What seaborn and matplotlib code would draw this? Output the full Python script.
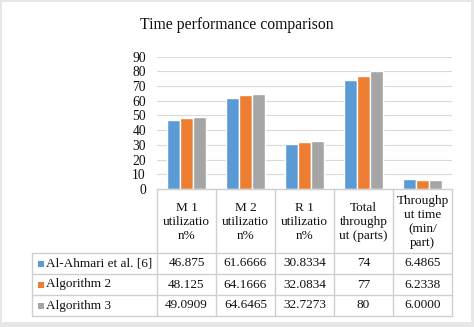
import matplotlib
matplotlib.use("Agg")
import matplotlib.pyplot as plt
import seaborn as sns
import pandas as pd
from matplotlib.patches import Rectangle

# ---- data ----
categories = ["M 1\nutilizatio\nn%", "M 2\nutilizatio\nn%", "R 1\nutilizatio\nn%",
              "Total\nthroughp\nut (parts)", "Throughp\nut time\n(min/\npart)"]
series_names = ["Al-Ahmari et al. [6]", "Algorithm 2", "Algorithm 3"]
al_ahmari = ["46.875", "61.6666", "30.8334", "74", "6.4865"]
algorithm2 = ["48.125", "64.1666", "32.0834", "77", "6.2338"]
algorithm3 = ["49.0909", "64.6465", "32.7273", "80", "6.0000"]
y_ticks = [0, 10, 20, 30, 40, 50, 60, 70, 80, 90]
colors = ["#5B9BD5", "#ED7D31", "#A5A5A5"]
title = "Time performance comparison"

series_values = [al_ahmari, algorithm2, algorithm3]
rows = []
for name, vals in zip(series_names, series_values):
    for cat, v in zip(categories, vals):
        rows.append({"category": cat, "series": name, "value": float(v)})
df = pd.DataFrame(rows)

sns.set_theme(style="white")
plt.rcParams["font.family"] = ["Liberation Serif", "DejaVu Serif"]

W, H = 474, 327
fig = plt.figure(figsize=(W / 100, H / 100), dpi=100)
fig.patch.set_facecolor("#E7E7E7")

def fx(x):
    return x / W

def fy(y):
    return 1 - y / H

# white chart area
fig.patches.append(Rectangle((fx(2), fy(322)), fx(471) - fx(2), fy(2) - fy(322),
                             transform=fig.transFigure, facecolor="white",
                             edgecolor="none", zorder=-5))

left, right, top, bottom = 157, 452, 56.7, 189
ax = fig.add_axes([fx(left), fy(bottom), fx(right) - fx(left), fy(top) - fy(bottom)])
ax.set_facecolor("none")
sns.barplot(data=df, x="category", y="value", hue="series", order=categories,
            hue_order=series_names, palette=colors, saturation=1, width=0.667,
            legend=False, ax=ax, zorder=3)
ax.set_xlim(-0.5, len(categories) - 0.5)
ax.set_ylim(0, 90)
ax.set_yticks(y_ticks)
ax.set_yticklabels([str(t) for t in y_ticks], fontsize=9.8, color="#111111")
ax.tick_params(axis="y", length=0, pad=8)
ax.tick_params(axis="x", length=0, labelbottom=False)
ax.set_xlabel("")
ax.set_ylabel("")
ax.yaxis.grid(True, color="#D9D9D9", linewidth=0.8, zorder=0)
ax.set_axisbelow(True)
for s in ax.spines.values():
    s.set_visible(False)

fig.text(fx(237), fy(25), title, ha="center", va="center", fontsize=11.3, color="#111111")

# ---- data table ----
line_c = "#CFCFCF"
col_x = [157, 216, 275, 334, 393, 452]
row_y = [189, 253, 274, 295, 316]
tbl_left = 32

def hline(x0, x1, y):
    fig.add_artist(plt.Line2D([fx(x0), fx(x1)], [fy(y), fy(y)], color=line_c, lw=1))

def vline(x, y0, y1):
    fig.add_artist(plt.Line2D([fx(x), fx(x)], [fy(y0), fy(y1)], color=line_c, lw=1))

hline(col_x[0], col_x[-1], row_y[0])
for y in row_y[1:]:
    hline(tbl_left, col_x[-1], y)
for x in col_x:
    vline(x, row_y[0], row_y[-1])
vline(tbl_left, row_y[1], row_y[-1])

fs = 9.5
for i, cat in enumerate(categories):
    cx = (col_x[i] + col_x[i + 1]) / 2
    fig.text(fx(cx), fy((row_y[0] + row_y[1]) / 2 + 1), cat, ha="center", va="center",
             fontsize=fs, linespacing=1.2, color="#111111")

for r, (name, vals) in enumerate(zip(series_names, series_values)):
    cy = (row_y[r + 1] + row_y[r + 2]) / 2
    fig.patches.append(Rectangle((fx(38), fy(cy + 3)), fx(6), fy(0) - fy(6),
                                 transform=fig.transFigure, facecolor=colors[r],
                                 edgecolor="none"))
    fig.text(fx(46.5), fy(cy), name, ha="left", va="center", fontsize=fs, color="#111111")
    for i, v in enumerate(vals):
        cx = (col_x[i] + col_x[i + 1]) / 2
        fig.text(fx(cx), fy(cy), v, ha="center", va="center", fontsize=fs, color="#111111")

fig.savefig("out.png", dpi=100, facecolor=fig.get_facecolor())
